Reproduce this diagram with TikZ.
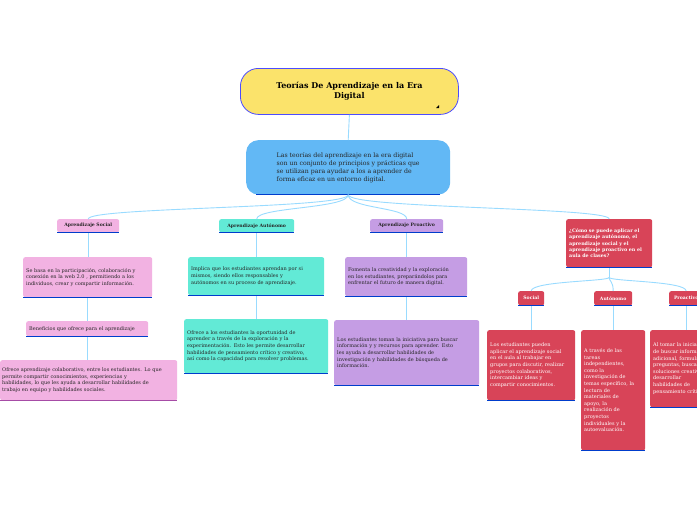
\documentclass[tikz,border=0pt]{standalone}
\usepackage{fontspec}
\setmainfont{DejaVu Serif}
\usetikzlibrary{calc}
\begin{document}
\begin{tikzpicture}[x=1pt,y=-1pt,
  bx/.style={draw=none,rounded corners=2pt,anchor=north west,align=left,inner sep=3pt,font=\fontsize{5}{6.6}\selectfont,text=black!85},
  lb/.style={bx,align=center,font=\fontsize{4.6}{5.5}\selectfont\bfseries},
  ul/.style={line width=1.4pt,draw=blue!70!cyan!80!black},
  cn/.style={draw=blue!35!cyan!40,line width=0.9pt}]
\useasboundingbox (0,0) rectangle (697,520);
\fill[white] (0,0) rectangle (697,520);
\definecolor{pk}{HTML}{F2B2E2}\definecolor{tl}{HTML}{62EAD6}
\definecolor{pu}{HTML}{C59DE4}\definecolor{rd}{HTML}{D84458}
\definecolor{yl}{HTML}{FBE36B}\definecolor{bl}{HTML}{62B8F5}
% title
\node[draw=blue!70,line width=0.8pt,fill=yl,rounded corners=18pt,minimum width=218pt,minimum height=46pt,anchor=north west,align=center,font=\fontsize{8}{10}\selectfont\bfseries] (t) at (240,68) {Teorías De Aprendizaje en la Era\\Digital};
\fill (436,108) -- (439,105) -- (439,108) -- cycle;
\node[bx,fill=bl,rounded corners=12pt,minimum width=204pt,minimum height=54pt,inner sep=12pt,font=\fontsize{6.2}{8}\selectfont] (m) at (246,140) {Las teorías del aprendizaje en la era digital\\son un conjunto de principios y prácticas que\\se utilizan para ayudar a los a aprender de\\forma eficaz en un entorno digital.};
\draw[ul] ([xshift=10pt]m.south west) -- ([xshift=-10pt]m.south east);
\draw[cn] (t.south) -- (m.north);
% level 1
\node[lb,fill=pk,minimum width=62pt,minimum height=13pt] (s) at (57,219) {Aprendizaje Social};
\node[lb,fill=tl,minimum width=75pt,minimum height=13pt] (a) at (219,219) {Aprendizaje Autónomo};
\node[lb,fill=pu,minimum width=73pt,minimum height=13pt] (p) at (370,219) {Aprendizaje Proactivo};
\node[bx,fill=rd,text=white,text width=80pt,minimum height=48pt,font=\fontsize{4.8}{6.4}\selectfont\bfseries] (q) at (566,219) {¿Cómo se puede aplicar el\\aprendizaje autónomo, el\\aprendizaje social y el\\aprendizaje proactivo en el\\aula de clases?};
\foreach \n in {s,a,p,q}{\draw[cn] (m.south) .. controls ($(m.south)+(0,14)$) and ($(\n.north)+(0,-12)$) .. (\n.north);}
% pink
\node[bx,fill=pk,text width=123pt,minimum height=40pt] (s1) at (23,257) {Se basa en la participación, colaboración y\\conexión en la web 2.0 , permitiendo a los\\individuos, crear y compartir información.};
\node[bx,fill=pk,text width=116pt,minimum height=15pt] (s2) at (26,321) {Beneficios que ofrece para el aprendizaje};
\node[bx,fill=pk,text width=173pt,minimum height=40pt,inner sep=2pt] (s3) at (0,360) {Ofrece aprendizaje colaborativo, entre los estudiantes. Lo que\\permite compartir conocimientos, experiencias y\\habilidades, lo que les ayuda a desarrollar habilidades de\\trabajo en equipo y habilidades sociales.};
% teal
\node[bx,fill=tl,text width=130pt,minimum height=38pt] (a1) at (188,257) {Implica que los estudiantes aprendan por si\\mismos, siendo ellos responsables y\\autónomos en su proceso de aprendizaje.};
\node[bx,fill=tl,text width=138pt,minimum height=54pt] (a2) at (184,319) {Ofrece a los estudiantes la oportunidad de\\aprender a través de la exploración y la\\experimentación. Esto les permite desarrollar\\habilidades de pensamiento crítico y creativo,\\así como la capacidad para resolver problemas.};
% purple
\node[bx,fill=pu,text width=116pt,minimum height=39pt] (p1) at (345,257) {Fomenta la creatividad y la exploración\\en los estudiantes, preparándolos para\\enfrentar el futuro de manera digital.};
\node[bx,fill=pu,text width=139pt,minimum height=65pt] (p2) at (334,320) {Los estudiantes toman la iniciativa para buscar\\información y y recursos para aprender. Esto\\les ayuda a desarrollar habilidades de\\investigación y habilidades de búsqueda de\\información.};
% red
\node[lb,fill=rd,text=white,minimum width=26pt,minimum height=14pt] (r1) at (518,291) {Social};
\node[lb,fill=rd,text=white,minimum width=38pt,minimum height=14pt] (r2) at (594,291) {Autónomo};
\node[lb,fill=rd,text=white,minimum width=34pt,minimum height=14pt] (r3) at (669,291) {Proactivo};
\node[bx,fill=rd,text=white,text width=82pt,minimum height=70pt] (q1) at (487,330) {Los estudiantes pueden\\aplicar el aprendizaje social\\en el aula al trabajar en\\grupos para discutir, realizar\\proyectos colaborativos,\\intercambiar ideas y\\compartir conocimientos.};
\node[bx,fill=rd,text=white,text width=58pt,minimum height=120pt] (q2) at (581,330) {A través de las\\tareas\\independientes,\\como la\\investigación de\\temas específico, la\\lectura de\\materiales de\\apoyo, la\\realización de\\proyectos\\individuales y la\\autoevaluación.};
\node[bx,fill=rd,text=white,text width=60pt,minimum height=77pt] (q3) at (650,330) {Al tomar la iniciativa\\de buscar información\\adicional, formular\\preguntas, buscar\\soluciones creativas,\\desarrollar\\habilidades de\\pensamiento crítico.};
\coordinate (qj) at ($(q.south)+(0,10)$);
\draw[cn] (q.south) -- (qj);
\foreach \n in {r1,r2,r3}{\draw[cn] (qj) .. controls ($(qj)+(0,4)$) and ($(\n.north)+(0,-10)$) .. (\n.north);}
% vertical connectors
\foreach \u/\v in {s/s1,s1/s2,s2/s3,a/a1,a1/a2,p/p1,p1/p2,r1/q1,r2/q2,r3/q3}{\draw[cn] (\u.south) -- (\u.south |- \v.north);}
% underlines
\foreach \n in {s,a,p,q,s1,s2,a1,a2,p1,p2,r1,r2,r3,q1,q2,q3}{\draw[ul] (\n.south west) -- (\n.south east);}
\draw[line width=1.4pt,draw=violet!70] (s3.south west) -- (s3.south east);
\end{tikzpicture}
\end{document}
